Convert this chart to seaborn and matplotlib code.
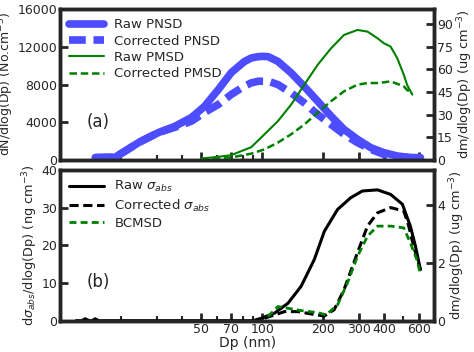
import numpy as np
import seaborn as sns
import matplotlib.pyplot as plt
from matplotlib.ticker import FixedLocator, NullFormatter

# particle number size distribution (left axis, panel a)
pnsd_dp = [14.9, 18.7, 20.9, 24.5, 30.7, 36.9, 44.7, 51.8, 60.7, 70.3, 81.5, 88.3, 95.6, 101, 107,
           119.5, 139, 161, 188, 219, 254, 296, 344, 399, 466, 541, 607]
raw_pnsd = [250, 290, 920, 1860, 2910, 3560, 4510, 5680, 7480, 9270, 10430, 10820, 10960, 10990, 10960,
            10460, 9240, 7820, 6240, 4650, 3240, 2190, 1310, 780, 420, 250, 250]
corr_pnsd = [250, 290, 920, 1860, 2910, 3460, 4120, 5040, 5890, 6950, 7820, 8180, 8350, 8350, 8350,
             8000, 7120, 6070, 4830, 3770, 2720, 1840, 1130, 600, 320, 250, 250]

# particle mass size distribution (right axis, panel a)
pmsd_dp = [50, 56, 70, 88.3, 102.6, 119.5, 139, 161.6, 188, 219, 254, 296, 332, 372, 400, 432, 466, 502, 521, 553]
raw_pmsd = [1, 1.6, 3.1, 8.5, 17, 25.7, 36.7, 49.9, 63, 74, 82.9, 86.2, 85.1, 80.7, 77.4, 75.2, 67.5, 56.5, 49.9, 43.3]
corr_pmsd = [0.8, 1.2, 1.6, 4.2, 7, 11.5, 17, 23.5, 31.3, 38.9, 45.5, 49.9, 51, 51, 51.5, 52.1, 50.5, 48.8, 46.5, 43.8]

# absorption (left axis, panel b)
sabs_dp = [12, 12.8, 13.3, 13.9, 14.4, 14.9, 15.5, 17, 30, 60, 90, 98.9, 115, 134, 155.7, 181, 203, 236,
           274, 313, 372, 432, 494, 541, 574, 607]
raw_sabs = [0, 0, 0.5, 0, 0, 0.5, 0, 0, 0, 0, 0, 0.64, 2, 4.6, 9.1, 16.2, 23.7, 29.5,
            32.6, 34.4, 34.7, 33.5, 30.9, 25.1, 19.7, 13.5]
csabs_dp = [102.6, 128.8, 150, 188, 203, 227, 254, 296, 332, 372, 432, 502, 531, 562, 607]
corr_sabs = [0.64, 2.4, 2.4, 1.5, 1.25, 2.9, 8.2, 18, 25.1, 28.6, 30, 29.1, 25.1, 19.7, 13.5]

# black carbon mass size distribution (right axis, panel b)
bc_dp = [106.7, 119.5, 134, 155.7, 188, 207, 236, 264, 296, 332, 372, 432, 502, 541, 584, 607]
bcmsd = [0.14, 0.49, 0.43, 0.35, 0.28, 0.2, 0.55, 1.3, 2.23, 2.93, 3.28, 3.28, 3.22, 2.7, 2.1, 1.6]

xticks = [50, 70, 100, 200, 300, 400, 600]
xminor = [20, 30, 40, 60, 80, 90, 500]

sns.set_style("ticks")
plt.rcParams['font.family'] = ['DejaVu Sans']
plt.rcParams['font.size'] = 9

fig, (ax1, ax2) = plt.subplots(2, 1, figsize=(4.74, 3.52), dpi=100, sharex=True)
fig.subplots_adjust(left=0.127, right=0.916, top=0.974, bottom=0.089, hspace=0.066)
ax1r = ax1.twinx()
ax2r = ax2.twinx()

blue = '#4d4dff'
sns.lineplot(x=pnsd_dp, y=raw_pnsd, ax=ax1, color=blue, lw=5.5, label='Raw PNSD')
sns.lineplot(x=pnsd_dp, y=corr_pnsd, ax=ax1, color=blue, lw=5.5, label='Corrected PNSD')
ax1.lines[1].set_dashes((2.2, 1.0))
sns.lineplot(x=pmsd_dp, y=raw_pmsd, ax=ax1r, color='green', lw=1.5, label='Raw PMSD')
sns.lineplot(x=pmsd_dp, y=corr_pmsd, ax=ax1r, color='green', lw=1.8, label='Corrected PMSD')
ax1r.lines[1].set_dashes((3, 1.5))

sns.lineplot(x=sabs_dp, y=raw_sabs, ax=ax2, color='black', lw=2.2, label=r'Raw $\sigma_{abs}$')
sns.lineplot(x=csabs_dp, y=corr_sabs, ax=ax2, color='black', lw=2.2, label=r'Corrected $\sigma_{abs}$')
ax2.lines[1].set_dashes((3, 1.5))
sns.lineplot(x=bc_dp, y=bcmsd, ax=ax2r, color='green', lw=2, label='BCMSD')
ax2r.lines[0].set_dashes((2.5, 1.5))

for ax in (ax1, ax2):
    ax.set_xscale('log')
    ax.set_xlim(10, 710)
    ax.xaxis.set_major_locator(FixedLocator(xticks))
    ax.xaxis.set_minor_locator(FixedLocator(xminor))
    ax.xaxis.set_minor_formatter(NullFormatter())

ax2.set_xticklabels([str(t) for t in xticks])
ax1.tick_params(axis='x', labelbottom=False)

ax1.set_ylim(0, 16000)
ax1.set_yticks([0, 4000, 8000, 12000, 16000])
ax1r.set_ylim(0, 100)
ax1r.set_yticks([0, 15, 30, 45, 60, 75, 90])
ax2.set_ylim(0, 40)
ax2.set_yticks([0, 10, 20, 30, 40])
ax2r.set_ylim(0, 5.23)
ax2r.set_yticks([0, 2, 4])

ax1.set_ylabel(r'dN/dlog(Dp) (No.cm$^{-3}$)', fontsize=9, labelpad=1)
ax1r.set_ylabel(r'dm/dlog(Dp) (ug cm$^{-3}$)', fontsize=9.3, labelpad=2)
ax2.set_ylabel(r'd$\sigma_{abs}$/dlog(Dp) (ng cm$^{-3}$)', fontsize=9.3, labelpad=1)
ax2r.set_ylabel(r'dm/dlog(Dp) (ug cm$^{-3}$)', fontsize=9.3, labelpad=2)
ax2.set_xlabel('Dp (nm)', fontsize=10, labelpad=0)

for ax in (ax1, ax1r, ax2, ax2r):
    for s in ax.spines.values():
        s.set_linewidth(2.5)
    ax.tick_params(which='major', direction='in', length=6, width=2, pad=2)
    ax.tick_params(which='minor', direction='in', length=3.5, width=1.5)

ax1.text(0.07, 0.22, '(a)', transform=ax1.transAxes, fontsize=12)
ax2.text(0.07, 0.22, '(b)', transform=ax2.transAxes, fontsize=12)

# combine legends of the twin axes
for ax, axr in ((ax1, ax1r), (ax2, ax2r)):
    h1, l1 = ax.get_legend_handles_labels()
    h2, l2 = axr.get_legend_handles_labels()
    axr.get_legend().remove()
    axr.patch.set_visible(False)
    axr.set_zorder(ax.get_zorder() + 1)
    axr.legend(h1 + h2, l1 + l2, loc='upper left', frameon=False, fontsize=9.5,
               handlelength=2.6, labelspacing=0.25, borderaxespad=0.3)
    ax.get_legend().remove()

plt.savefig('out.png', dpi=100)
